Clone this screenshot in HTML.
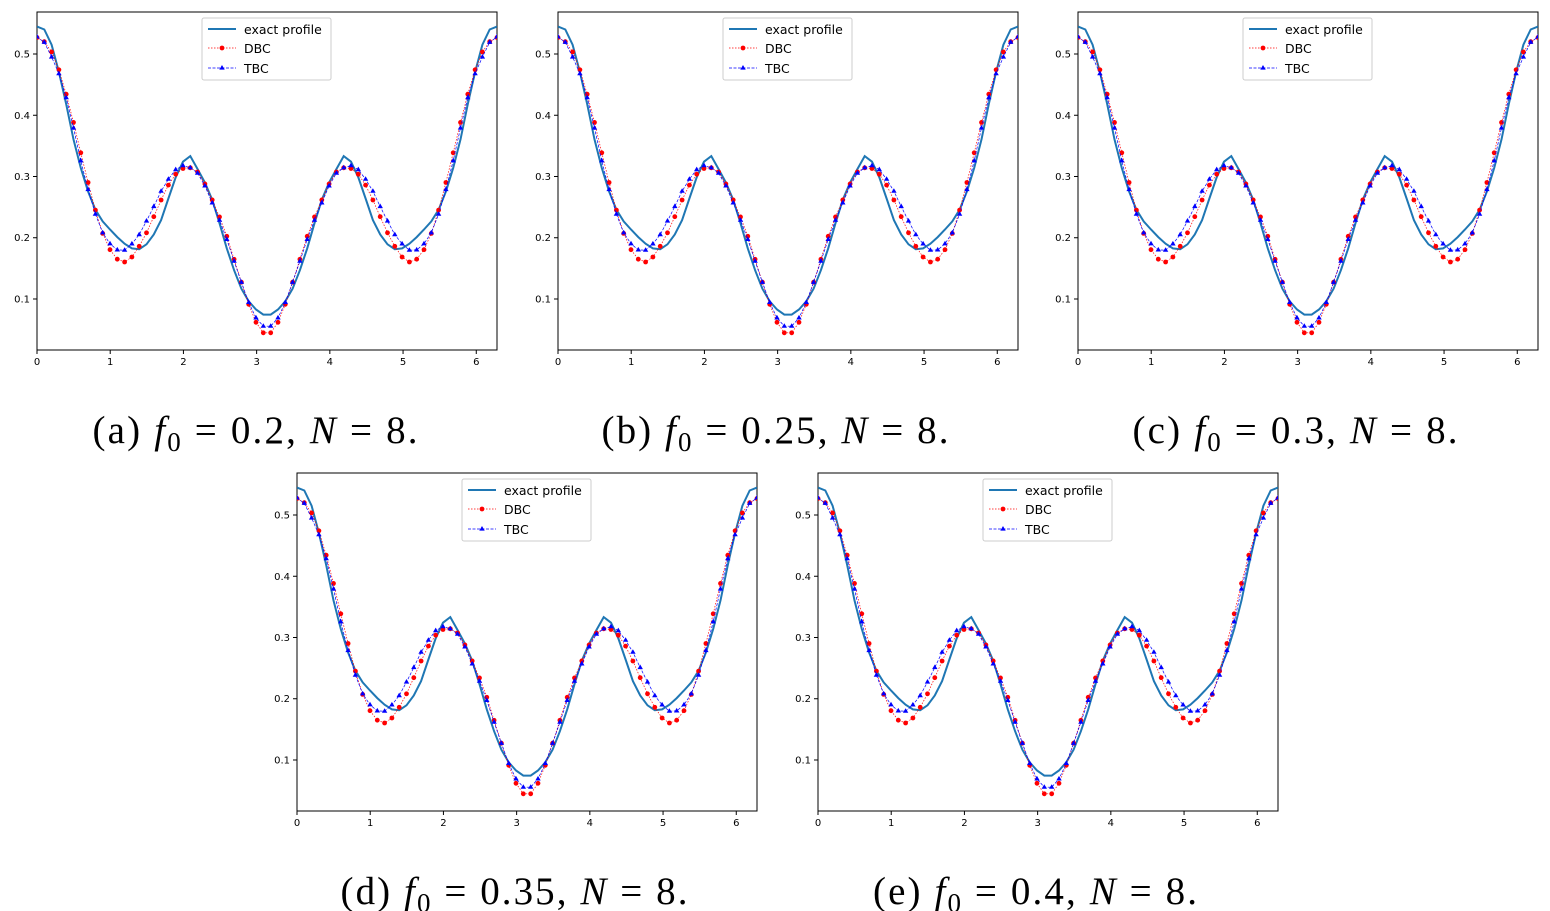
<!DOCTYPE html>
<html><head><meta charset="utf-8"><style>
body{margin:0;background:#fff;}
svg{display:block;}
.t{font-family:"DejaVu Sans","Liberation Sans",sans-serif;font-size:10px;fill:#000;}
.l{font-family:"DejaVu Sans","Liberation Sans",sans-serif;font-size:12.5px;fill:#000;}
.c{font-family:"Liberation Serif",serif;font-size:39px;fill:#000;}
</style></head><body>
<svg id="s" width="1550" height="911" xmlns="http://www.w3.org/2000/svg"></svg>
<script>
const PI=Math.PI, TP=2*PI;
const EX=[[0,0.545],[0.1,0.54],[0.2,0.515],[0.3,0.47],[0.5,0.36],[0.7,0.275],[0.85,0.235],[1.0,0.213],[1.2,0.19],[1.36,0.181],[1.5,0.19],[1.7,0.23],[1.9,0.3],[2.0,0.325],[2.1,0.333],[2.2,0.31],[2.4,0.26],[2.6,0.18],[2.8,0.115],[3.0,0.082],[3.1416,0.073]];
const DB=[[0,0.527],[0.1,0.52],[0.21,0.501],[0.32,0.467],[0.42,0.425],[0.52,0.378],[0.62,0.328],[0.72,0.28],[0.82,0.236],[0.92,0.2],[1.02,0.176],[1.12,0.163],[1.22,0.161],[1.32,0.172],[1.42,0.191],[1.52,0.214],[1.62,0.241],[1.72,0.268],[1.82,0.291],[1.92,0.307],[2.02,0.314],[2.12,0.313],[2.22,0.302],[2.4,0.26],[2.6,0.2],[2.8,0.125],[2.95,0.075],[3.05,0.05],[3.1416,0.042]];
const TB=[[0,0.528],[0.1,0.519],[0.2,0.495],[0.33,0.458],[0.44,0.41],[0.54,0.357],[0.64,0.304],[0.75,0.258],[0.85,0.22],[0.96,0.196],[1.07,0.182],[1.18,0.179],[1.28,0.188],[1.39,0.204],[1.49,0.226],[1.6,0.252],[1.7,0.277],[1.81,0.298],[1.91,0.313],[2.02,0.318],[2.12,0.312],[2.22,0.3],[2.4,0.255],[2.6,0.195],[2.8,0.125],[2.95,0.08],[3.05,0.06],[3.1416,0.053]];
function interp(P,x){ if(x>PI) x=TP-x; for(let i=0;i<P.length-1;i++){ if(x<=P[i+1][0]){const a=P[i],b=P[i+1];const t=(x-a[0])/(b[0]-a[0]);
 const p0=P[Math.max(i-1,0)][1],p1=a[1],p2=b[1],p3=P[Math.min(i+2,P.length-1)][1];
 return 0.5*((2*p1)+(-p0+p2)*t+(2*p0-5*p1+4*p2-p3)*t*t+(-p0+3*p1-3*p2+p3)*t*t*t);} } return P[P.length-1][1];}
let h='';
function panel(L,T,cap,cx,cw){
 const W=460,H=338;
 const X=x=>L+x/TP*W, Y=y=>T+H-(y-0.0167)/(0.5686-0.0167)*H;
 h+=`<rect x="${L}" y="${T}" width="${W}" height="${H}" fill="none" stroke="#000" stroke-width="1"/>`;
 for(let i=0;i<=6;i++){const x=X(i);h+=`<line x1="${x}" y1="${T+H}" x2="${x}" y2="${T+H+4}" stroke="#000"/><text class="t" x="${x}" y="${T+H+15}" text-anchor="middle">${i}</text>`;}
 for(let i=1;i<=5;i++){const y=Y(i/10);h+=`<line x1="${L-4}" y1="${y}" x2="${L}" y2="${y}" stroke="#000"/><text class="t" x="${L-7}" y="${y+3.5}" text-anchor="end">0.${i}</text>`;}
 const N=64;let pe='',pd='',pt='',md='',mt='';
 for(let i=0;i<N;i++){const x=i*TP/(N-1);
  pe+=`${X(x).toFixed(1)},${Y(interp(EX,x)).toFixed(1)} `;
  const xd=X(x),yd=Y(interp(DB,x)),yt=Y(interp(TB,x));
  pd+=`${xd.toFixed(1)},${yd.toFixed(1)} `;pt+=`${xd.toFixed(1)},${yt.toFixed(1)} `;
  md+=`<circle cx="${xd.toFixed(1)}" cy="${yd.toFixed(1)}" r="2.4" fill="red"/>`;
  mt+=`<path d="M${xd.toFixed(1)},${(yt-3).toFixed(1)}l2.7,4.6h-5.4z" fill="blue"/>`;}
 h+=`<svg x="${L}" y="${T}" width="${W}" height="${H}" overflow="hidden"><g transform="translate(${-L},${-T})">`;
 h+=`<polyline points="${pe}" fill="none" stroke="#1f77b4" stroke-width="2"/>`;
 h+=`<polyline points="${pd}" fill="none" stroke="red" stroke-width="0.7" stroke-dasharray="1.5,1.5"/>${md}`;
 h+=`<polyline points="${pt}" fill="none" stroke="blue" stroke-width="0.7" stroke-dasharray="3,1.5"/>${mt}`;
 h+=`</g></svg>`;
 const lx=L+165,ly=T+6;
 h+=`<rect x="${lx}" y="${ly}" width="129" height="62" rx="2" fill="#fff" fill-opacity="0.8" stroke="#ccc"/>`;
 h+=`<line x1="${lx+6}" y1="${ly+11}" x2="${lx+34}" y2="${ly+11}" stroke="#1f77b4" stroke-width="2"/><text class="l" x="${lx+42}" y="${ly+16}">exact profile</text>`;
 h+=`<line x1="${lx+6}" y1="${ly+30}" x2="${lx+34}" y2="${ly+30}" stroke="red" stroke-width="0.7" stroke-dasharray="1.5,1.5"/><circle cx="${lx+20}" cy="${ly+30}" r="2.4" fill="red"/><text class="l" x="${lx+42}" y="${ly+35}">DBC</text>`;
 h+=`<line x1="${lx+6}" y1="${ly+50}" x2="${lx+34}" y2="${ly+50}" stroke="blue" stroke-width="0.7" stroke-dasharray="3,1.5"/><path d="M${lx+20},${ly+47}l2.7,4.6h-5.4z" fill="blue"/><text class="l" x="${lx+42}" y="${ly+55}">TBC</text>`;
 h+=`<text class="c" x="${cx-cw/2}" y="${T+H+93}" textLength="${cw}" lengthAdjust="spacing">${cap}</text>`;
}
const cap=(l,f)=>`(${l}) <tspan font-style="italic">f</tspan><tspan font-size="27" dy="8">0</tspan><tspan dy="-8"> = ${f}, </tspan><tspan font-style="italic">N</tspan> = 8.`;
panel(37,12,cap('a','0.2'),255,325);
panel(558,12,cap('b','0.25'),775,347);
panel(1078,12,cap('c','0.3'),1295,325);
panel(297,473,cap('d','0.35'),514,347);
panel(818,473,cap('e','0.4'),1035,324);
document.getElementById('s').innerHTML=h;
</script>
</body></html>
